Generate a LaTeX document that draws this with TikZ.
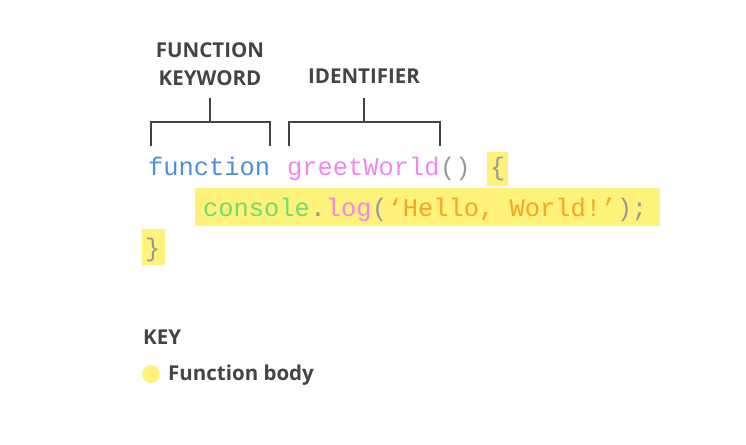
\documentclass[tikz,border=0pt]{standalone}
\usepackage{fontspec}
\setmainfont{Open Sans}
\newfontfamily\codefont{Liberation Mono}
\begin{document}
\begin{tikzpicture}[x=1pt,y=-1pt,
  lbl/.style={font=\fontsize{20.5}{28}\selectfont\bfseries, text=labgray, inner sep=0pt},
  code/.style={font=\codefont\fontsize{25.4}{28}\selectfont, inner sep=0pt, anchor=base west},
  hl/.style={fill=hlyellow, draw=none},
  brk/.style={draw=labgray, line width=2pt}]
\definecolor{labgray}{HTML}{444444}
\definecolor{hlyellow}{HTML}{FFF27A}
\definecolor{cblue}{HTML}{4A90E2}
\definecolor{cpink}{HTML}{EE88EE}
\definecolor{cgreen}{HTML}{6FDC6F}
\definecolor{corange}{HTML}{F5A623}
\definecolor{cgray}{HTML}{999999}
\useasboundingbox[fill=white] (0,0) rectangle (746,444);
% highlights
\fill[hl] (487,152) rectangle (508,186);
\fill[hl] (195,188) rectangle (660,226);
\fill[hl] (142,229) rectangle (165,265);
% code
\node[code, text=cblue] (kw) at (148,175) {function};
\node[code, text=cpink] (id) at (287,175) {greetWorld};
\node[code, text=cgray, anchor=base west] (par) at (id.base east) {()};
\node[code, text=cgray] (ob) at (490,175) {\{};
\node[code, text=cgreen] (con) at (203,216) {console};
\node[code, text=cgray, anchor=base west] (dot) at (con.base east) {.};
\node[code, text=cpink, anchor=base west] (log) at (dot.base east) {log};
\node[code, text=cgray, anchor=base west] (lp) at (log.base east) {(};
\node[code, text=corange, anchor=base west] (str) at (lp.base east) {‘Hello, World!’};
\node[code, text=cgray, anchor=base west] (rp) at (str.base east) {);};
\node[code, text=cgray] (cb) at (145,256) {\}};
% brackets
\coordinate (k1) at (151,146); \coordinate (k2) at (270,146);
\coordinate (i1) at (289,146); \coordinate (i2) at (440,146);
\draw[brk] (k1) |- (270,122) -- (k2);
\draw[brk] (210,122) -- (210,98);
\draw[brk] (i1) |- (440,122) -- (i2);
\draw[brk] (364,122) -- (364,98);
% labels
\node[lbl, align=center] (kwl) at (210,64) {FUNCTION\\KEYWORD};
\node[lbl] (idl) at (364,76) {IDENTIFIER};
\node[lbl, anchor=west] (key) at (143,337) {KEY};
\fill[hlyellow] (151,374) circle (9) coordinate (dotk);
\node[lbl, anchor=west] (fb) at (168,375) {Function body};
\end{tikzpicture}
\end{document}
